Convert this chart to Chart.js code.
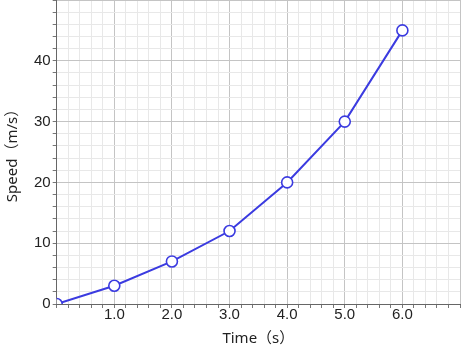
<!DOCTYPE html>
<html>
<head>
<meta charset="utf-8">
<script src="https://cdn.jsdelivr.net/npm/chart.js@4/dist/chart.umd.min.js"></script>
<style>
  html, body { margin: 0; padding: 0; background: #fff; }
  #wrap { width: 474px; height: 346px; }
</style>
</head>
<body>
<div id="wrap"><canvas id="grafico"></canvas></div>
<script>
// dados
const tempos = [0, 1, 2, 3, 4, 5, 6];
const velocidades = [0, 3, 7, 12, 20, 30, 45];
const xTicks = [1, 2, 3, 4, 5, 6];
const yTicks = [0, 10, 20, 30, 40];

const inteiro = (v) => Math.abs(v - Math.round(v)) < 1e-6;
const naLista = (lista, v) => lista.some((t) => Math.abs(t - v) < 1e-6);

const fonteTick = { family: "'Liberation Sans', Arial, sans-serif", size: 15 };
const fonteTitulo = { family: "'Noto Sans', 'Noto Sans CJK SC', sans-serif", size: 15, lineHeight: 1 };

new Chart(document.getElementById("grafico"), {
  type: "line",
  data: {
    datasets: [
      {
        data: tempos.map((t, i) => ({ x: t, y: velocidades[i] })),
        borderColor: "#3b3be0",
        borderWidth: 2,
        pointRadius: 5.5,
        pointBorderWidth: 1.6,
        pointBackgroundColor: "#ffffff",
        pointBorderColor: "#3b3be0",
        tension: 0,
        clip: 0
      }
    ]
  },
  options: {
    responsive: true,
    maintainAspectRatio: false,
    animation: false,
    layout: { autoPadding: false, padding: { top: 0, right: 14, left: 5, bottom: 0 } },
    plugins: { legend: { display: false }, tooltip: { enabled: false } },
    scales: {
      x: {
        type: "linear",
        min: 0,
        max: 7,
        afterFit: (s) => { s.height = 42; },
        ticks: {
          stepSize: 0.2,
          autoSkip: false,
          maxRotation: 0,
          color: "#222",
          font: fonteTick,
          padding: -2,
          callback: (v) => (naLista(xTicks, v) ? v.toFixed(1) : "")
        },
        grid: {
          color: (c) => (inteiro(c.tick.value) ? "#c4c4c4" : "#e8e8e8"),
          tickColor: "#777",
          tickLength: 4,
          lineWidth: 1
        },
        border: { display: true, color: "#666", width: 1 },
        title: {
          display: true,
          text: "Time（s）",
          color: "#222",
          font: fonteTitulo,
          padding: { top: 6, bottom: 0 }
        }
      },
      y: {
        min: 0,
        max: 50,
        afterFit: (s) => { s.paddingTop = 0; },
        ticks: {
          stepSize: 2,
          autoSkip: false,
          color: "#222",
          font: fonteTick,
          padding: 2,
          callback: (v) => (naLista(yTicks, v) ? String(v) : "")
        },
        grid: {
          color: (c) => (c.tick.value % 10 === 0 ? "#c4c4c4" : "#e8e8e8"),
          tickColor: "#777",
          tickLength: 4,
          lineWidth: 1
        },
        border: { display: true, color: "#666", width: 1 },
        title: {
          display: true,
          text: "Speed（m/s）",
          color: "#222",
          font: fonteTitulo,
          padding: { top: 0, bottom: 12 }
        }
      }
    }
  }
});
</script>
</body>
</html>
